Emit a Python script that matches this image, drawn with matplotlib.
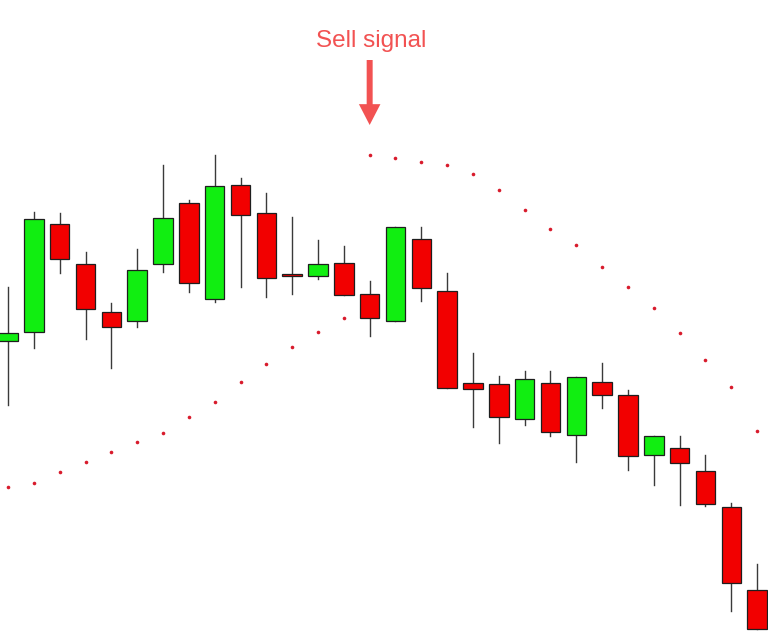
"""
Parabolic SAR sell signal on a candlestick chart.
"""

import numpy as np
import matplotlib
matplotlib.use("Agg")
import matplotlib.pyplot as plt
from matplotlib.patches import Rectangle


# ================================================================
# DATA (price units)
# ================================================================

opens = [295, 304, 412, 372, 324, 315, 372, 433, 337, 451,
         423, 362, 360, 373, 342, 315, 397, 345, 253, 252,
         217, 253, 201, 254, 241, 181, 188, 165, 129, 46]
highs = [349, 424, 423, 384, 333, 387, 471, 436, 481, 458,
         443, 419, 396, 390, 355, 409, 409, 363, 283, 260,
         265, 265, 259, 273, 246, 200, 200, 181, 133, 72]
lows = [231, 288, 363, 297, 268, 309, 364, 344, 334, 349,
        339, 342, 357, 341, 300, 315, 335, 248, 209, 193,
        211, 200, 174, 228, 166, 151, 131, 130, 25, 7]
closes = [303, 417, 377, 327, 309, 366, 418, 353, 450, 421,
          358, 360, 372, 341, 318, 409, 348, 248, 247, 219,
          257, 204, 259, 241, 180, 200, 173, 132, 53, 7]

sar = [149, 153, 164, 174, 184, 194, 203, 219, 234, 254,
       272, 289, 304, 318, 481, 478, 474, 471, 462, 446,
       426, 407, 391, 369, 349, 328, 303, 276, 249, 205]

signal_idx = 14
signal_label = "Sell signal"

UP = "#11ee11"
DOWN = "#f20000"
EDGE = "#1e1e1e"
WICK = "#3a3a3a"
DOT = "#d81b2c"
NOTE = "#f25252"


# ================================================================
# PLOT
# ================================================================

def main():
    plt.rcParams["font.family"] = ["Liberation Sans", "DejaVu Sans"]
    fig = plt.figure(figsize=(7.68, 6.36), dpi=100)
    ax = fig.add_axes([0, 0, 1, 1])

    body_w = 0.76
    for i, (o, h, l, c) in enumerate(zip(opens, highs, lows, closes)):
        ax.plot([i, i], [l, h], color=WICK, linewidth=1.0, zorder=1)
        bottom = min(o, c)
        height = max(abs(c - o), 1.5)
        color = UP if c > o else DOWN
        ax.add_patch(Rectangle((i - body_w / 2, bottom), body_w, height,
                               facecolor=color, edgecolor=EDGE,
                               linewidth=0.9, zorder=2))

    x = np.arange(len(sar))
    ax.plot(x, sar, linestyle="none", marker="o", markersize=2.6,
            color=DOT, markeredgewidth=0, zorder=3)

    # sell signal arrow + label
    top = sar[signal_idx]
    ax.annotate("", xy=(signal_idx, top + 30), xytext=(signal_idx, top + 95),
                arrowprops=dict(width=4.3, headwidth=15.5, headlength=15,
                                shrink=0, color=NOTE, linewidth=0))
    ax.text(signal_idx + 0.05, top + 114, signal_label, color=NOTE,
            fontsize=17.5, ha="center", va="center")

    ax.set_xlim(-0.31, 29.42)
    ax.set_ylim(0, 636)
    ax.axis("off")

    fig.savefig("out.png", dpi=100, facecolor="white")
    plt.close(fig)


if __name__ == "__main__":
    main()
